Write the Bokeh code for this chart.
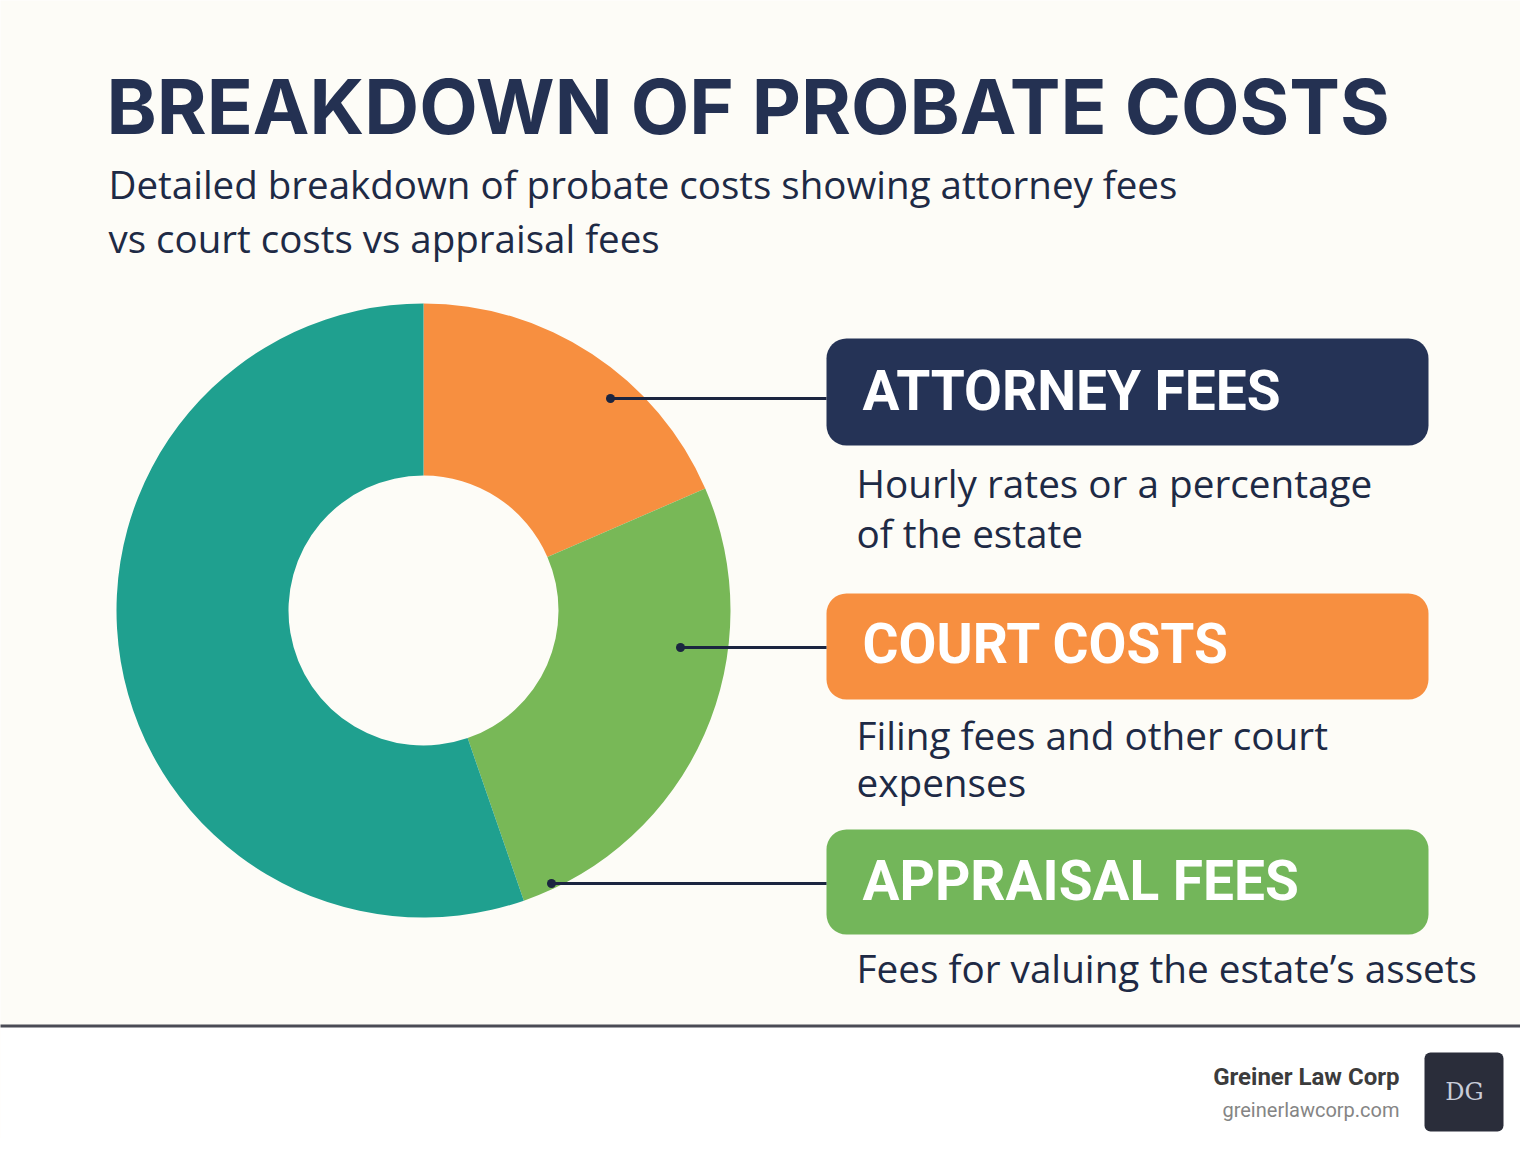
import math
from bokeh.plotting import figure
from bokeh.models import Range1d
from bokeh.core.properties import value
from bokeh.embed import file_html
from bokeh.resources import INLINE

# ---------------- data ----------------
slice_names = ["Orange segment", "Green segment", "Teal segment"]
slice_values = [18.5, 26.2, 55.3]
slice_colors = ["#F78F40", "#78B857", "#1FA08F"]

categories = ["ATTORNEY FEES", "COURT COSTS", "APPRAISAL FEES"]
box_colors = ["#253356", "#F78F40", "#73B65A"]
descriptions = [
    ["Hourly rates or a percentage", "of the estate"],
    ["Filing fees and other court", "expenses"],
    ["Fees for valuing the estate\u2019s assets"],
]
title_text = "BREAKDOWN OF PROBATE COSTS"
subtitle_lines = ["Detailed breakdown of probate costs showing attorney fees",
                  "vs court costs vs appraisal fees"]
brand_name = "Greiner Law Corp"
brand_url = "greinerlawcorp.com"

# ---------------- page geometry ----------------
W, H = 1520, 1138
K = 0.4  # baseline correction (fraction of font size)


def Y(py):
    return H - py


def TB(py, fs):
    # text baseline position in data units
    return H - py + K * fs


p = figure(width=W, height=H, output_backend="svg", toolbar_location=None,
           x_range=Range1d(0, W), y_range=Range1d(0, H),
           min_border=0, background_fill_color="#FDFCF7",
           border_fill_color="#FDFCF7")
p.axis.visible = False
p.grid.visible = False
p.outline_line_color = None

NAVY = "#243152"
TEXT = "#1E2A45"

# footer white area + rule
p.quad(left=[-10], right=[W + 10], bottom=[Y(H + 10)], top=[Y(1025)],
       fill_color="white", line_color=None)
p.segment(x0=[-10], y0=[Y(1025.5)], x1=[W + 10], y1=[Y(1025.5)],
          line_color="#4A4B55", line_width=3)

# title / subtitle
fs_t = 76
p.text(x=[106], y=[TB(136, fs_t)], text=[title_text], text_font=value("Inter"),
       text_font_style="bold", text_font_size=f"{fs_t}px", text_color=NAVY,
       text_baseline="alphabetic")
fs_s = 38.5
p.text(x=[108, 108], y=[TB(199, fs_s), TB(253, fs_s)], text=subtitle_lines,
       text_font=value("Open Sans"), text_font_size=f"{fs_s}px", text_color=TEXT,
       text_baseline="alphabetic")

# donut
cx, cy = 423, Y(610)
total = sum(slice_values)
start = math.pi / 2
starts, ends = [], []
for v in slice_values:
    a = 2 * math.pi * v / total
    starts.append(start)
    ends.append(start - a)
    start -= a
p.annular_wedge(x=[cx] * 3, y=[cy] * 3, inner_radius=135, outer_radius=307,
                start_angle=starts, end_angle=ends, direction="clock",
                fill_color=slice_colors, line_color=None)

# boxes
box_tops = [338, 593, 829]
box_bottoms = [445, 699, 934]
p.quad(left=[826] * 3, right=[1428] * 3, top=[Y(t) for t in box_tops],
       bottom=[Y(b) for b in box_bottoms], fill_color=box_colors,
       line_color=None, border_radius=20)
fs_b = 55
p.text(x=[862] * 3, y=[TB(412, fs_b), TB(665, fs_b), TB(902, fs_b)],
       text=categories, text_font=value("Roboto"), text_font_style="bold",
       text_font_size=f"{fs_b}px", text_color="white", text_baseline="alphabetic")

# connectors
dot_x = [610, 680, 551]
dot_y = [398, 647, 883]
p.segment(x0=dot_x, y0=[Y(v) for v in dot_y], x1=[826] * 3,
          y1=[Y(v) for v in dot_y], line_color="#1B2540", line_width=3)
p.scatter(x=dot_x, y=[Y(v) for v in dot_y], size=9, fill_color="#1B2540",
          line_color=None)

# descriptions
fs_d = 38.7
desc_base = [[498, 548], [750, 797], [983]]
xs, ys, ts = [], [], []
for lines, bases in zip(descriptions, desc_base):
    for t, b in zip(lines, bases):
        xs.append(856)
        ys.append(TB(b, fs_d))
        ts.append(t)
p.text(x=xs, y=ys, text=ts, text_font=value("Open Sans"),
       text_font_size=f"{fs_d}px", text_color=TEXT, text_baseline="alphabetic")

# brand
p.text(x=[1399], y=[TB(1086, 24)], text=[brand_name], text_font=value("Roboto"),
       text_font_style="bold", text_font_size="24px", text_color="#3C3C3C",
       text_align="right", text_baseline="alphabetic")
p.text(x=[1399], y=[TB(1117, 20)], text=[brand_url], text_font=value("Roboto"),
       text_font_size="20px", text_color="#858585",
       text_align="right", text_baseline="alphabetic")
p.quad(left=[1424], right=[1503], top=[Y(1052)], bottom=[Y(1131)],
       fill_color="#2A2D3A", line_color=None, border_radius=6)
p.text(x=[1464], y=[Y(1091)], text=["DG"], text_font=value("DejaVu Serif"),
       text_font_size="24px", text_color="#C8CCD8", text_align="center",
       text_baseline="middle")

open("out.html", "w").write(file_html(p, INLINE))
